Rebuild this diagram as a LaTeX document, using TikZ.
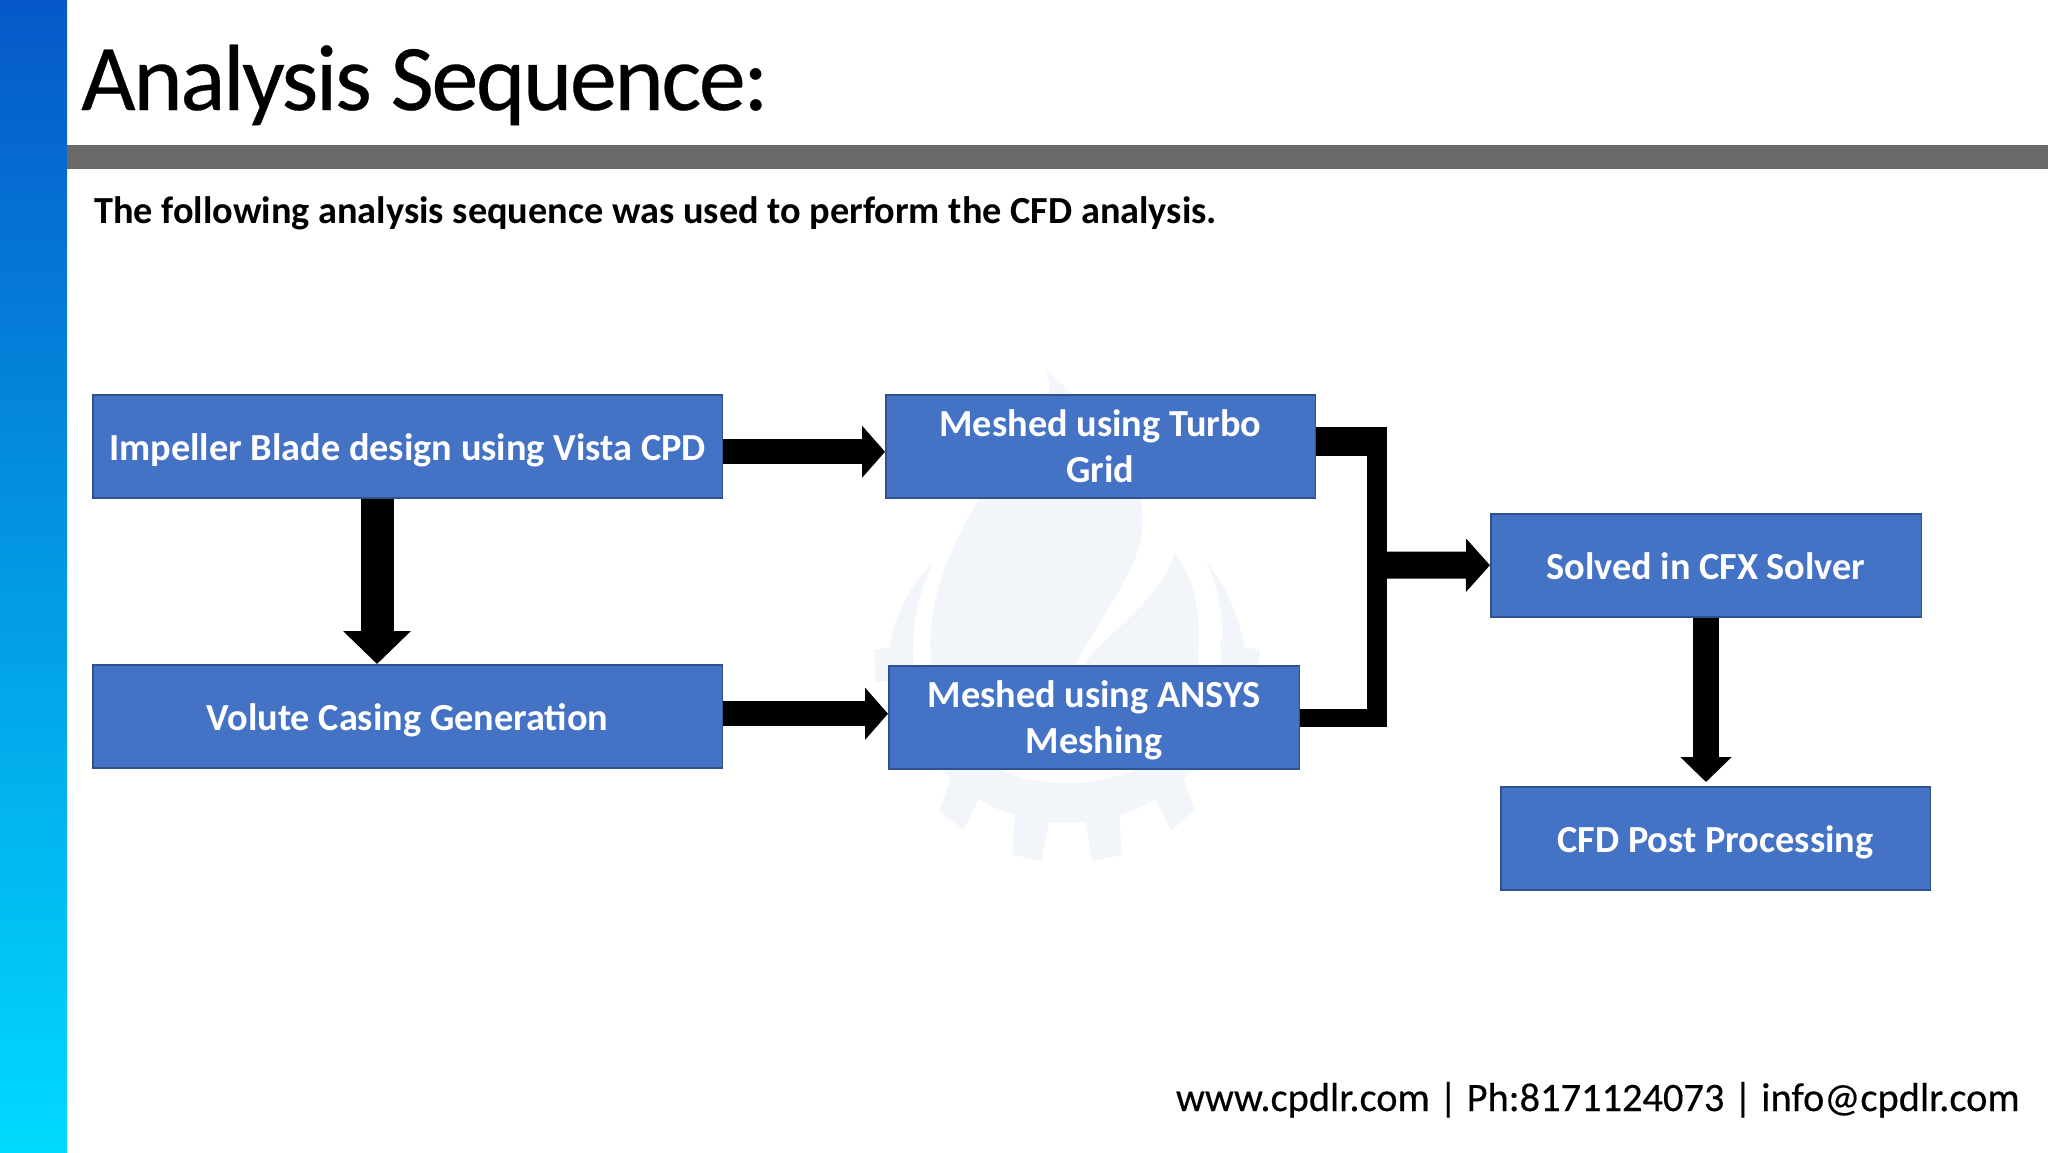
\documentclass[tikz,border=0pt]{standalone}
\usepackage{fontspec}
\usetikzlibrary{arrows.meta}
\setmainfont{Carlito}
\definecolor{boxfill}{HTML}{4472C4}
\definecolor{boxline}{HTML}{2F528F}
\definecolor{wm}{HTML}{F2F6FB}
\definecolor{rulegray}{HTML}{696969}
\definecolor{bartop}{HTML}{0658C8}
\definecolor{barbot}{HTML}{00DAFF}
\tikzset{
  x=1pt,y=-1pt,
  flow/.style={draw=boxline,line width=1.5pt,fill=boxfill,text=white,font=\fontsize{38.3}{46}\selectfont\bfseries,align=center,inner sep=0pt,anchor=north west},
  oneline/.style={text height=28pt,text depth=0pt},
  twoline/.style={text depth=-2.6pt},
  bar/.style={draw=black,line cap=butt},
  blockh/.style={draw=black,line width=25pt,-{Triangle[length=23pt,width=51pt]}},
  blockv/.style={draw=black,line width=33pt,-{Triangle[length=33pt,width=66pt]}},
  blockj/.style={draw=black,line width=27pt,-{Triangle[length=24pt,width=52pt]}},
  blockp/.style={draw=black,line width=26pt,-{Triangle[length=25pt,width=50pt]}}
}
\begin{document}
\begin{tikzpicture}
\useasboundingbox (0,0) rectangle (2048,1152);
\fill[white] (0,0) rectangle (2048,1152);
% background
\shade[top color=bartop,bottom color=barbot] (0,0) rectangle (67,1152);
\fill[rulegray] (67,145) rectangle (2048,169);
% watermark: flames and gear
\fill[wm] (1045,368) .. controls (1100,420) and (1140,470) .. (1142,510)
  .. controls (1148,560) and (1110,600) .. (1075,665) -- (932,665)
  .. controls (922,600) and (960,520) .. (1000,470)
  .. controls (1035,425) and (1060,400) .. (1045,368) -- cycle;
\fill[wm] (1175,553) .. controls (1200,590) and (1200,620) .. (1198,665) -- (1083,665)
  .. controls (1110,630) and (1160,600) .. (1175,553) -- cycle;
\fill[wm] (933,563) .. controls (905,590) and (893,620) .. (886,665) -- (914,665)
  .. controls (910,630) and (918,595) .. (933,563) -- cycle;
\fill[wm] (1207,563) .. controls (1230,590) and (1240,620) .. (1248,665) -- (1222,665)
  .. controls (1224,630) and (1222,595) .. (1207,563) -- cycle;
\begin{scope}[shift={(1067,655)}]
  \clip (-210,-15) rectangle (210,220);
  \fill[wm,even odd rule] (0,0) ellipse [x radius=172,y radius=168] (0,0) ellipse [x radius=154,y radius=128];
  \foreach \a in {3,28,53,78,102,127,152,177}
    \fill[wm] (\a-6:168 and 164) -- (\a-4.5:193 and 208) -- (\a+4.5:193 and 208) -- (\a+6:168 and 164) -- cycle;
\end{scope}
% texts
\node[anchor=base west,inner sep=0pt,font=\fontsize{94}{94}\selectfont\addfontfeature{LetterSpace=-2.5,FakeBold=0.3}] (title) at (81,110) {Analysis Sequence:};
\node[anchor=base west,inner sep=0pt,font=\fontsize{38.3}{40}\selectfont\bfseries] (sub) at (94,223) {The following analysis sequence was used to perform the CFD analysis.};
\node[anchor=base east,inner sep=0pt,font=\fontsize{40.4}{42}\selectfont\addfontfeature{FakeBold=0.3}] (foot) at (2020,1111) {www.cpdlr.com | Ph:8171124073 | info@cpdlr.com};
% boxes
\node[flow,oneline,minimum width=629.5pt,minimum height=103pt] (imp) at (92,394) {Impeller Blade design using Vista CPD};
\node[flow,oneline,minimum width=629.5pt,minimum height=103pt] (vol) at (92,664) {Volute Casing Generation};
\node[flow,twoline,minimum width=429.5pt,minimum height=103pt] (turbo) at (885,394) {Meshed using Turbo\\Grid};
\node[flow,twoline,minimum width=410.5pt,minimum height=103pt] (ansys) at (888,665) {Meshed using ANSYS\\Meshing};
\node[flow,oneline,minimum width=430.5pt,minimum height=103pt] (solver) at (1490,513) {Solved in CFX Solver};
\node[flow,oneline,minimum width=429.5pt,minimum height=103pt] (post) at (1500,786) {CFD Post Processing};
% connectors
\draw[blockh] ([yshift=-5.5pt]imp.east) -- ([yshift=-5.5pt]turbo.west);
\draw[blockh] ([yshift=2.5pt]vol.east) -- ([yshift=3.5pt]ansys.west);
\draw[blockv] ([xshift=-30.5pt]imp.south) -- ([xshift=-30.5pt]vol.north);
\coordinate (jtop) at (1377,427);
\coordinate (jbot) at (1377,727);
\coordinate (jright) at (1387,565);
\coordinate (jup) at (1387,441.5);
\coordinate (jlow) at (1387,718);
\draw[bar,line width=29pt] (turbo.east |- jup) -- (jup);
\draw[bar,line width=18pt] (ansys.east |- jlow) -- (jlow);
\draw[bar,line width=20pt] (jtop) -- (jbot);
\draw[blockj] (jright) -- (solver.west);
\draw[blockp,shorten >=4pt] (solver.south) -- (solver.south |- post.north);
\end{tikzpicture}
\end{document}
